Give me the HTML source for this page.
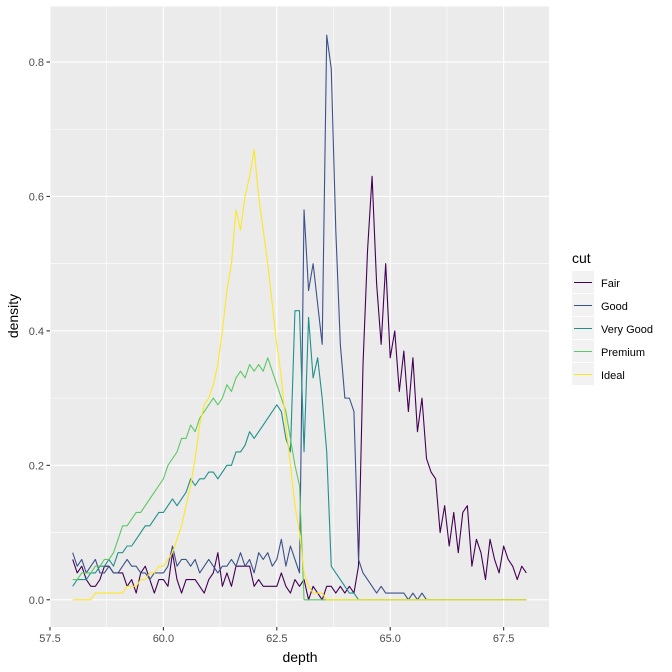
<!DOCTYPE html>
<html><head><meta charset="utf-8"><style>
body{margin:0;background:#fff;}
svg{display:block;font-family:"Liberation Sans",Arial,sans-serif;}
</style></head><body>
<svg id="chart" width="672" height="672" viewBox="0 0 672 672">
<rect x="0" y="0" width="672" height="672" fill="#fff"/>
<g id="panel"></g>
<g id="lines"></g>
<g id="axes"></g>
<text x="300" y="662" font-size="14" text-anchor="middle" fill="#000">depth</text>
<text x="0" y="0" font-size="14" text-anchor="middle" fill="#000" transform="translate(18,316) rotate(-90)">density</text>
<g id="legend"></g>
</svg>
<script>
const cuts = ["Fair","Good","Very Good","Premium","Ideal"];
const colors = ["#440154","#3B528B","#21908C","#5DC863","#FDE725"];
const xStart = 58.0, xStep = 0.1;
const xTicks = [57.5,60.0,62.5,65.0,67.5];
const xTickLabels = ["57.5","60.0","62.5","65.0","67.5"];
const yTicks = [0,0.2,0.4,0.6,0.8];
const yTickLabels = ["0.0","0.2","0.4","0.6","0.8"];
const fair = [0.06,0.04,0.05,0.03,0.02,0.02,0.03,0.05,0.05,0.04,
0.04,0.04,0.02,0.03,0.01,0.04,0.05,0.03,0.01,0.03,
0.03,0.02,0.07,0.03,0.01,0.03,0.03,0.03,0.02,0.01,
0.03,0.04,0.07,0.02,0.04,0.02,0.05,0.05,0.05,0.05,
0.02,0.03,0.02,0.02,0.02,0.02,0.04,0.02,0.01,0.03,
0.02,0.03,0.00,0.02,0.01,0.00,0.02,0.02,0.01,0.02,0.01,
0.02,0.01,0.05,0.35,0.52,0.63,0.47,0.38,0.50,0.36,
0.40,0.31,0.37,0.28,0.36,0.25,0.30,0.21,0.19,0.18,
0.10,0.14,0.08,0.13,0.07,0.13,0.14,0.05,0.09,
0.07,0.03,0.09,0.06,0.04,0.08,0.06,0.05,0.03,0.05,0.04];
const good = [0.07,0.05,0.06,0.04,0.05,0.06,0.04,0.04,0.05,0.04,
0.04,0.05,0.06,0.05,0.05,0.04,0.04,0.03,0.04,0.04,
0.04,0.05,0.08,0.05,0.06,0.06,0.05,0.06,0.04,0.05,
0.06,0.05,0.04,0.05,0.05,0.06,0.05,0.07,0.05,0.06,0.04,
0.07,0.06,0.07,0.05,0.06,0.09,0.05,0.08,0.06,0.04,
0.58,0.46,0.50,0.44,0.38,0.84,0.79,0.55,0.38,0.30,
0.30,0.28,0.06,0.04,0.03,0.02,0.01,0.02,0.01,0.01,
0.01,0.01,0.01,0.00,0.01,0.00,0.01,0.00,0.00,0.00,
0.00,0.00,0.00,0.00,0.00,0.00,0.00,0.00,0.00,0.00,
0.00,0.00,0.00,0.00,0.00,0.00,0.00,0.00,0.00,0.00];
const veryGood = [0.02,0.03,0.03,0.03,0.04,0.04,0.05,0.05,0.06,0.05,
0.07,0.07,0.08,0.08,0.09,0.10,0.11,0.11,0.12,0.13,
0.13,0.14,0.15,0.14,0.15,0.16,0.18,0.17,0.18,0.18,
0.19,0.19,0.18,0.19,0.20,0.20,0.22,0.22,0.23,0.25,0.24,
0.25,0.26,0.27,0.28,0.29,0.28,0.24,0.22,0.43,0.43,
0.22,0.42,0.33,0.36,0.30,0.22,0.05,0.04,0.03,0.02,
0.01,0.01,0.00,0.00,0.00,0.00,0.00,0.00,0.00,0.00,
0.00,0.00,0.00,0.00,0.00,0.00,0.00,0.00,0.00,0.00,
0.00,0.00,0.00,0.00,0.00,0.00,0.00,0.00,0.00,0.00,
0.00,0.00,0.00,0.00,0.00,0.00,0.00,0.00,0.00,0.00];
const premium = [0.03,0.03,0.04,0.04,0.04,0.05,0.05,0.06,0.06,0.07,
0.09,0.11,0.11,0.12,0.13,0.13,0.14,0.15,0.16,0.17,
0.18,0.20,0.21,0.22,0.24,0.24,0.26,0.25,0.27,0.28,
0.29,0.30,0.29,0.30,0.32,0.31,0.33,0.34,0.33,0.35,0.34,
0.35,0.34,0.36,0.34,0.32,0.30,0.28,0.24,0.20,0.17,
0.00,0.00,0.00,0.00,0.00,0.00,0.00,0.00,0.00,0.00,
0.00,0.00,0.00,0.00,0.00,0.00,0.00,0.00,0.00,0.00,
0.00,0.00,0.00,0.00,0.00,0.00,0.00,0.00,0.00,0.00,
0.00,0.00,0.00,0.00,0.00,0.00,0.00,0.00,0.00,0.00,
0.00,0.00,0.00,0.00,0.00,0.00,0.00,0.00,0.00,0.00];
const ideal = [0.00,0.00,0.00,0.00,0.00,0.01,0.01,0.01,0.01,0.01,
0.01,0.01,0.02,0.02,0.02,0.03,0.03,0.04,0.04,0.05,
0.05,0.06,0.07,0.09,0.11,0.14,0.17,0.21,0.26,0.29,
0.30,0.32,0.35,0.40,0.46,0.50,0.58,0.55,0.60,0.63,0.67,
0.60,0.55,0.50,0.44,0.38,0.33,0.26,0.20,0.14,0.10,
0.04,0.02,0.01,0.01,0.01,0.00,0.00,0.00,0.00,0.00,
0.00,0.00,0.00,0.00,0.00,0.00,0.00,0.00,0.00,0.00,
0.00,0.00,0.00,0.00,0.00,0.00,0.00,0.00,0.00,0.00,
0.00,0.00,0.00,0.00,0.00,0.00,0.00,0.00,0.00,0.00,
0.00,0.00,0.00,0.00,0.00,0.00,0.00,0.00,0.00,0.00];
const series = [fair, good, veryGood, premium, ideal];

const NS = "http://www.w3.org/2000/svg";
const P = {l:50, r:549, t:6.5, b:627};
const xMin = 57.5, xMax = 68.5, yMin = -0.0405, yMax = 0.8826;
function xs(v){ return P.l + (v - xMin) / (xMax - xMin) * (P.r - P.l); }
function ys(v){ return P.b - (v - yMin) / (yMax - yMin) * (P.b - P.t); }
function mk(tag, attrs, parent){ const e=document.createElementNS(NS,tag); for(const k in attrs) e.setAttribute(k,attrs[k]); parent.appendChild(e); return e; }

const panel = document.getElementById('panel');
const bg = mk('rect',{x:P.l,y:P.t,width:P.r-P.l,height:P.b-P.t,fill:'#EBEBEB'},panel);


for(let i=0;i<xTicks.length;i++){
  const mv = xTicks[i] + 1.25;
  if(mv < xMax){
    const g = mk('line',{x1:xs(mv),x2:xs(mv),y1:P.t,y2:P.b,stroke:'#fff','stroke-width':0.55},panel);
    
    
  }
}
for(let i=0;i<yTicks.length;i++){
  const mv = yTicks[i] + 0.1;
  if(mv < yMax){
    const g = mk('line',{x1:P.l,x2:P.r,y1:ys(mv),y2:ys(mv),stroke:'#fff','stroke-width':0.55},panel);
    
    
  }
}
const axes = document.getElementById('axes');
xTicks.forEach((v,i)=>{
  const g = mk('line',{x1:xs(v),x2:xs(v),y1:P.t,y2:P.b,stroke:'#fff','stroke-width':1.1},panel);
  
  
  const t = mk('line',{x1:xs(v),x2:xs(v),y1:P.b,y2:P.b+3.5,stroke:'#333','stroke-width':1.1},axes);
  
  
  const l = mk('text',{x:xs(v),y:P.b+15,'font-size':11,'text-anchor':'middle',fill:'#4D4D4D'},axes);
  l.textContent = xTickLabels[i];
  
  
});
yTicks.forEach((v,i)=>{
  const g = mk('line',{x1:P.l,x2:P.r,y1:ys(v),y2:ys(v),stroke:'#fff','stroke-width':1.1},panel);
  
  
  const t = mk('line',{x1:P.l-3.5,x2:P.l,y1:ys(v),y2:ys(v),stroke:'#333','stroke-width':1.1},axes);
  
  
  const l = mk('text',{x:P.l-6,y:ys(v)+4,'font-size':11,'text-anchor':'end',fill:'#4D4D4D'},axes);
  l.textContent = yTickLabels[i];
  
  
});
const lines = document.getElementById('lines');
series.forEach((arr,si)=>{
  const pts = arr.map((v,i)=> xs(xStart + i*xStep).toFixed(2)+','+ys(v).toFixed(2)).join(' ');
  const pl = mk('polyline',{points:pts,fill:'none',stroke:colors[si],'stroke-width':1.1,'stroke-linejoin':'round'},lines);
  
  
});
const legend = document.getElementById('legend');
const lt = mk('text',{x:572,y:263,'font-size':14,fill:'#000'},legend);
lt.textContent = 'cut';


cuts.forEach((c,i)=>{
  const y0 = 271 + i*23;
  const k = mk('rect',{x:572,y:y0,width:22,height:22,fill:'#F2F2F2'},legend);
  
  
  const ln = mk('line',{x1:574,x2:592,y1:y0+11.5,y2:y0+11.5,stroke:colors[i],'stroke-width':1.1},legend);
  
  
  const tx = mk('text',{x:601,y:y0+16,'font-size':11,fill:'#000'},legend);
  tx.textContent = c;
  
  
});
</script>
</body></html>
